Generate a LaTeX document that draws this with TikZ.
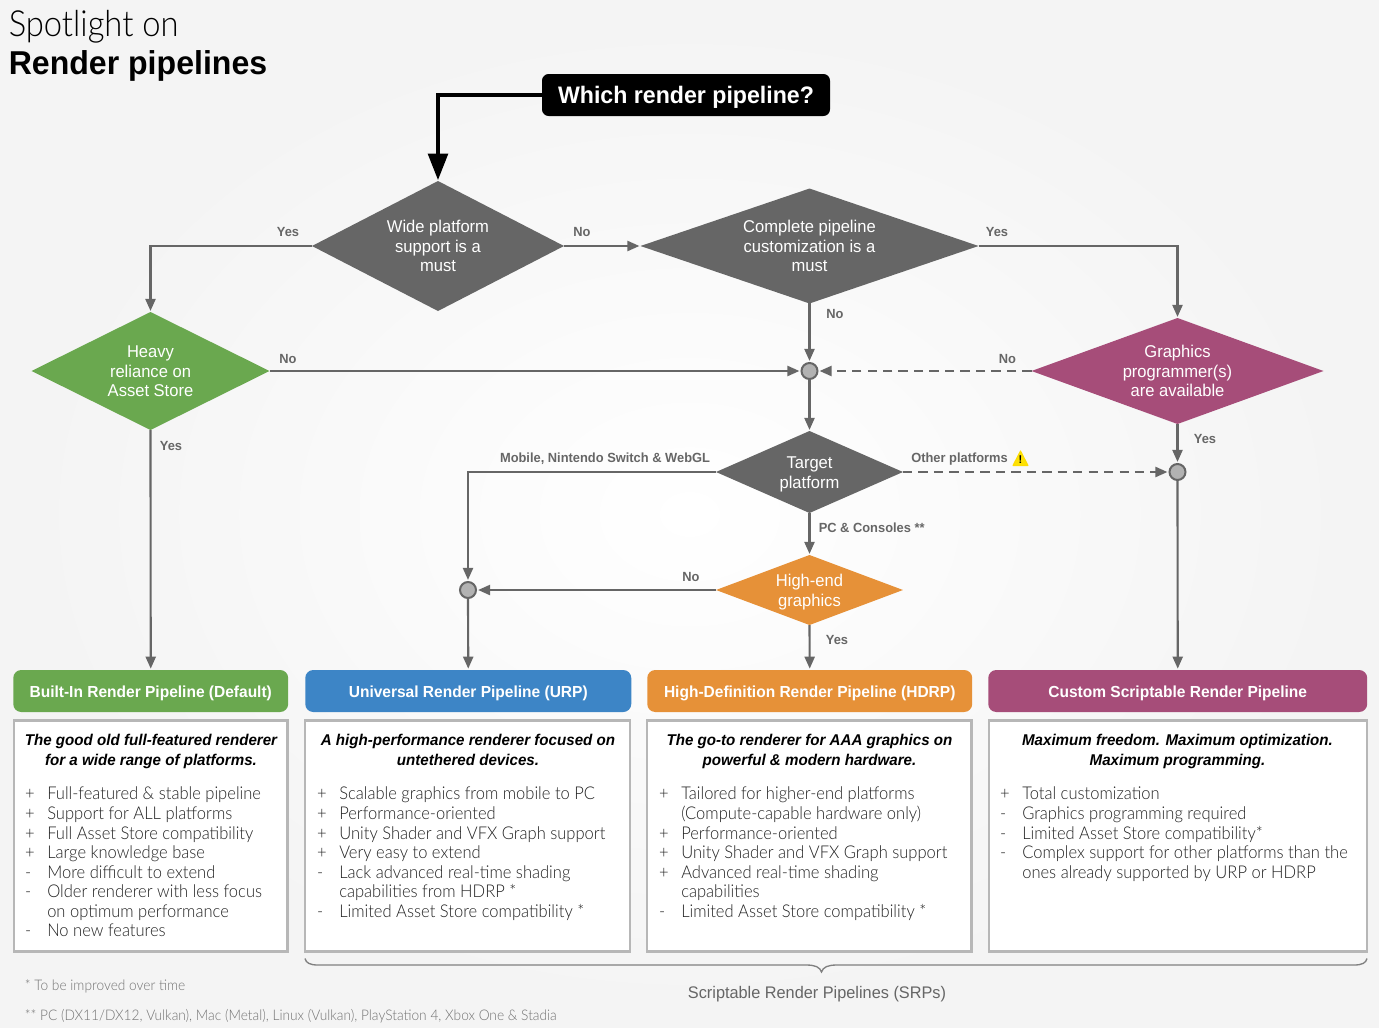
\documentclass[tikz,border=0pt]{standalone}
\usepackage{fontspec}
\usetikzlibrary{arrows.meta,shapes.geometric,calc}
\setmainfont[FakeStretch=0.97]{Liberation Sans}
\newfontfamily\thinf[FakeStretch=0.91]{Lato Light}
\newfontfamily\bodyf[FakeStretch=0.94]{Lato Light}
\definecolor{cgrey}{HTML}{666666}
\definecolor{cgreen}{HTML}{6AA84F}
\definecolor{cblue}{HTML}{3D85C6}
\definecolor{corange}{HTML}{E69138}
\definecolor{cpurple}{HTML}{A64D79}
\definecolor{cborder}{HTML}{B7B7B7}
\definecolor{ctext}{HTML}{222222}
\newcommand{\fsz}[2]{\fontsize{#1}{#2}\selectfont}
\newcommand{\topst}{\rule{0pt}{12pt}}
\newcommand{\botst}{\rule[-2.5pt]{0pt}{2.5pt}}
\newcommand{\headst}{\rule[-2pt]{0pt}{14pt}}
\tikzset{
  dec/.style={diamond,inner sep=0pt,outer sep=0pt,text=white,align=center,font=\fsz{12.8}{14.7}},
  arr/.style={draw=cgrey,line width=1.6pt,-{Triangle[length=9pt,width=7.5pt]},shorten >=0.8pt},
  dsh/.style={arr,dash pattern=on 7pt off 4.6pt},
  junc/.style={circle,draw=cgrey,fill=black!30,line width=1.5pt,minimum size=12pt,inner sep=0pt},
  lab/.style={text=cgrey,font=\fsz{9.95}{12}\bfseries,inner sep=0pt},
  head/.style={rounded corners=6pt,text=white,font=\fsz{12}{14}\bfseries,minimum height=31.5pt,inner sep=0pt,anchor=west},
  pane/.style={draw=cborder,fill=white,line width=1.8pt,outer sep=0pt,minimum height=173.25pt,inner sep=0pt,anchor=north west},
  tagline/.style={text=black,align=center,font=\fsz{11.7}{14.7}\bfseries\itshape,inner sep=0pt,anchor=north},
  items/.style={text=ctext,align=left,font=\bodyf\fsz{13.2}{14.68},inner sep=0pt,anchor=north west},
  note/.style={text=black!55,font=\bodyf\fsz{10.95}{12},inner sep=0pt,anchor=west},
}
\begin{document}
\begin{tikzpicture}[x=0.75pt,y=-0.75pt]
\useasboundingbox (0,0) rectangle (1379,1028);
\shade[inner color=white,outer color=black!4.5] (0,0) rectangle (1379,1028);

\node[anchor=west,inner sep=0pt,font=\thinf\fsz{27}{30}] (t1) at (8.5,27) {Spotlight on};
\node[anchor=west,inner sep=0pt,font=\fsz{24.8}{30}\bfseries] (t2) at (8.5,66) {Render pipelines};

\node[fill=black,rounded corners=5pt,text=white,minimum width=216pt,minimum height=31.5pt,inner sep=0pt,font=\fsz{17.9}{22}\bfseries] (start) at (686,95) {\rule[-3.4pt]{0pt}{20.4pt}Which render pipeline?};

\node[dec,fill=cgrey,minimum width=189pt,minimum height=97.5pt,aspect=2] (wide) at (438,246) {\topst Wide platform\\support is a\\must\botst};
\node[dec,fill=cgrey,minimum width=253.5pt,minimum height=86.2pt,aspect=3] (full) at (809.5,246) {\topst Complete pipeline\\customization is a\\must\botst};
\node[dec,fill=cgreen,minimum width=178.5pt,minimum height=88.5pt,aspect=2] (heavy) at (150.5,371) {\topst Heavy\\reliance on\\Asset Store\botst};
\node[dec,fill=cpurple,minimum width=219pt,minimum height=79.5pt,aspect=2.75] (gfx) at (1177.5,371) {\topst Graphics\\programmer(s)\\are available\botst};
\node[dec,fill=cgrey,minimum width=140.2pt,minimum height=61.5pt,aspect=2.3] (target) at (809.5,472) {\topst Target\\platform\botst};
\node[dec,fill=corange,minimum width=140.2pt,minimum height=52.5pt,aspect=2.7] (high) at (809.5,590) {\topst High-end\\graphics\botst};

\node[junc] (j1) at (809.5,371) {};
\node[junc] (j2) at (1177.5,472) {};
\node[junc] (j3) at (468,590) {};

% headers
\node[head,fill=cgreen,minimum width=206.2pt] (hb) at (13,691) {\headst Built-In Render Pipeline (Default)};
\node[head,fill=cblue,minimum width=244.5pt] (hu) at (305,691) {\headst Universal Render Pipeline (URP)};
\node[head,fill=corange,minimum width=243.7pt] (hh) at (647,691) {\headst High-Definition Render Pipeline (HDRP)};
\node[head,fill=cpurple,minimum width=284.2pt] (hc) at (988,691) {\headst Custom Scriptable Render Pipeline};

% panes
\node[pane,minimum width=205.1pt] (pb) at (14,720.5) {};
\node[pane,minimum width=243.75pt] (pu) at (305.2,720.5) {};
\node[pane,minimum width=243.5pt] (ph) at (647,720.5) {};
\node[pane,minimum width=283.5pt] (pc) at (988.8,720.5) {};

% taglines
\node[tagline] (tb) at (151,734) {The good old full-featured renderer\\for a wide range of platforms.};
\node[tagline] (tu) at (468,734) {A high-performance renderer focused on\\untethered devices.};
\node[tagline] (th) at (809.5,734) {The go-to renderer for AAA graphics on\\powerful \& modern hardware.};
\node[tagline] (tc) at (1177.5,734) {Maximum freedom. Maximum optimization.\\Maximum programming.};

% lists
\node[items,anchor=north] (sb) at (30,786) {\strut+\\+\\+\\+\\-\\-\\ \\-};
\node[items] (ib) at (47,786) {\strut Full-featured \& stable pipeline\\Support for ALL platforms\\Full Asset Store compatibility\\Large knowledge base\\More difficult to extend\\Older renderer with less focus\\on optimum performance\\No new features};
\node[items,anchor=north] (su) at (322,786) {\strut+\\+\\+\\+\\-\\ \\-};
\node[items] (iu) at (339,786) {\strut Scalable graphics from mobile to PC\\Performance-oriented\\Unity Shader and VFX Graph support\\Very easy to extend\\Lack advanced real-time shading\\capabilities from HDRP *\\Limited Asset Store compatibility *};
\node[items,anchor=north] (sh) at (664,786) {\strut+\\ \\+\\+\\+\\ \\-};
\node[items] (ih) at (681,786) {\strut Tailored for higher-end platforms\\(Compute-capable hardware only)\\Performance-oriented\\Unity Shader and VFX Graph support\\Advanced real-time shading\\capabilities\\Limited Asset Store compatibility *};
\node[items,anchor=north] (sc) at (1005,786) {\strut+\\-\\-\\-};
\node[items] (ic) at (1022,786) {\strut Total customization\\Graphics programming required\\Limited Asset Store compatibility*\\Complex support for other platforms than the\\ones already supported by URP or HDRP};

% connectors
\draw[draw=black,line width=3.4pt,-{Triangle[length=20pt,width=14.5pt]},shorten >=0.5pt] (start.west) -| (wide.north);
\draw[arr] (wide.west) -| (heavy.north);
\draw[arr] (wide.east) -- (full.west);
\draw[arr] (full.east) -| (gfx.north);
\draw[arr] (full.south) -- (j1.north);
\draw[arr] (heavy.east) -- (j1.west);
\draw[dsh] (gfx.west) -- (j1.east);
\draw[arr] (j1.south) -- (target.north);
\draw[arr] (target.west) -| (j3.north);
\draw[dsh] (target.east) -- (j2.west);
\draw[arr] (gfx.south) -- (j2.north);
\draw[arr] (target.south) -- (high.north);
\draw[arr] (high.west) -- (j3.east);
\draw[arr] (high.south) -- (hh.north);
\draw[arr] (j3.south) -- (hu.north);
\draw[arr] (j2.south) -- (hc.north);
\draw[arr] (heavy.south) -- (hb.north);

% labels
\node[lab] (l1) at (288,232) {Yes};
\node[lab] (l2) at (582,232) {No};
\node[lab] (l3) at (997,232) {Yes};
\node[lab] (l4) at (835,314) {No};
\node[lab] (l5) at (288,359) {No};
\node[lab] (l6) at (1007.5,359) {No};
\node[lab] (l7) at (171,446) {Yes};
\node[lab] (l8) at (1205,439) {Yes};
\node[lab] (l9) at (605,459) {Mobile, Nintendo Switch \& WebGL};
\node[lab,anchor=west] (l10) at (911,459) {Other platforms};
\node[lab,anchor=west] (l11) at (818.5,528) {PC \& Consoles **};
\node[lab] (l12) at (691,577) {No};
\node[lab] (l13) at (837,640) {Yes};

% warning sign
\fill[draw=yellow!80!orange,fill=yellow!85!orange,line width=0.8pt,line join=round] (1020.5,451) -- (1028,465.5) -- (1013,465.5) -- cycle;
\node[inner sep=0pt,text=black,font=\fsz{8.5}{9}\bfseries] (warn) at (1020.5,459.5) {!};

% brace
\draw[draw=black!50,line width=1pt] (305,958.5) .. controls (306,963) and (310,965) .. (318,965) -- (806,965) .. controls (815,965) and (820,967) .. (821.5,972) .. controls (823,967) and (828,965) .. (837,965) -- (1354,965) .. controls (1362,965) and (1366,963) .. (1367,958.5);
\node[text=black!60,font=\fsz{12.6}{14},inner sep=0pt] (srp) at (817,995) {\strut Scriptable Render Pipelines (SRPs)};

% notes
\node[note] (n1) at (24.5,986.5) {* To be improved over time};
\node[note] (n2) at (24.5,1016.5) {** PC (DX11/DX12, Vulkan), Mac (Metal), Linux (Vulkan), PlayStation 4, Xbox One \& Stadia};
\end{tikzpicture}
\end{document}
